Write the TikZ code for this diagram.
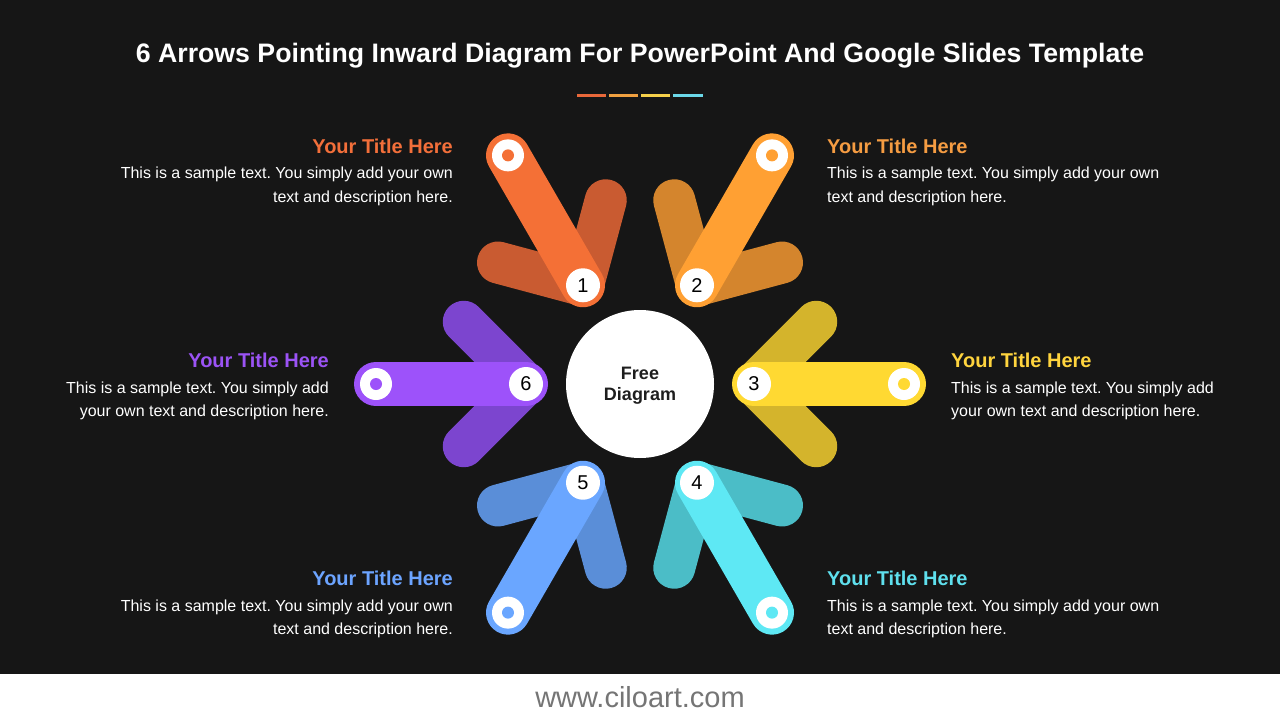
\documentclass[tikz,border=0pt]{standalone}
\usepackage{fontspec}
\setmainfont{Liberation Sans}
\usetikzlibrary{calc}
\frenchspacing
\definecolor{bgc}{HTML}{161616}
\definecolor{cAs}{HTML}{F47036}\definecolor{cAw}{HTML}{C95B31}
\definecolor{cBs}{HTML}{FFA033}\definecolor{cBw}{HTML}{D4852D}
\definecolor{cCs}{HTML}{FFD932}\definecolor{cCw}{HTML}{D4B42C}
\definecolor{cDs}{HTML}{5EE8F4}\definecolor{cDw}{HTML}{4BBDC7}
\definecolor{cEs}{HTML}{6AA6FF}\definecolor{cEw}{HTML}{5A8ED8}
\definecolor{cFs}{HTML}{9D52FA}\definecolor{cFw}{HTML}{7C45CF}
\definecolor{tA}{HTML}{F36F3A}\definecolor{tB}{HTML}{F59C42}
\definecolor{tC}{HTML}{FFD43E}\definecolor{tD}{HTML}{5FE0EE}
\definecolor{tE}{HTML}{6CA4FF}\definecolor{tF}{HTML}{9B53F5}
\definecolor{barA}{HTML}{E8683A}\definecolor{barB}{HTML}{F0A040}
\definecolor{barC}{HTML}{F5D04A}\definecolor{barD}{HTML}{6BD8E8}
\definecolor{footc}{HTML}{757575}
\definecolor{darktext}{HTML}{1E1E1E}
\tikzset{
  wingline/.style={line width=42pt, line cap=round},
  shaftline/.style={line width=44pt, line cap=round},
  numcirc/.style={circle, fill=white, minimum size=34pt, inner sep=0pt, text=black, font=\fontsize{20}{20}\selectfont},
  ringcirc/.style={circle, fill=white, minimum size=32pt, inner sep=0pt},
  ttl/.style={inner sep=0pt, font=\fontsize{20}{20}\selectfont\bfseries},
  body/.style={inner sep=0pt, text=white, font=\fontsize{16}{16}\selectfont},
}
\begin{document}
\begin{tikzpicture}[x=1pt,y=-1pt]
\useasboundingbox (0,0) rectangle (1280,720);
\fill[bgc] (0,0) rectangle (1280,674);
\fill[white] (0,674) rectangle (1280,720);
\node[font=\fontsize{29}{29}\selectfont, text=footc, inner sep=0pt] (foot) at (640,697) {www.ciloart.com};
% main title
\node[font=\fontsize{26.7}{26.7}\selectfont\bfseries, text=white, inner sep=0pt, anchor=base] (title) at (640,62) {6 Arrows Pointing Inward Diagram For PowerPoint And Google Slides Template};
\fill[barA] (577,93.5) rectangle (606,96.5);
\fill[barB] (609,93.5) rectangle (638,96.5);
\fill[barC] (641,93.5) rectangle (670,96.5);
\fill[barD] (673,93.5) rectangle (703,96.5);
% arrows
\coordinate (c) at (640,384);
\foreach \i/\a/\s/\w in {1/240/cAs/cAw, 2/300/cBs/cBw, 3/0/cCs/cCw, 4/60/cDs/cDw, 5/120/cEs/cEw, 6/180/cFs/cFw}{
  \coordinate (n\i) at ($(c)+(\a:114)$);
  \coordinate (r\i) at ($(c)+(\a:264)$);
  \coordinate (wa\i) at ($(n\i)+(\a+45:88)$);
  \coordinate (wb\i) at ($(n\i)+(\a-45:88)$);
  \draw[wingline, draw=\w] (n\i) -- (wa\i);
  \draw[wingline, draw=\w] (n\i) -- (wb\i);
  \draw[shaftline, draw=\s] (n\i) -- (r\i);
  \node[numcirc] (num\i) at (n\i) {\i};
  \node[ringcirc] (ring\i) at (r\i) {};
  \fill[\s] (r\i) circle (6);
}
% center
\node[circle, fill=white, minimum size=148pt, inner sep=0pt] (center) at (c) {};
\node[font=\fontsize{18}{18}\selectfont\bfseries, text=darktext, inner sep=0pt] (cfree) at (640,373) {Free};
\node[font=\fontsize{18}{18}\selectfont\bfseries, text=darktext, inner sep=0pt] (cdiag) at (640,396) {Diagram};
% text block 1 (top left)
\node[ttl, text=tA, anchor=base east] (t1) at (453,153) {Your Title Here};
\node[body, anchor=base east] (b1a) at (453,178) {This is a sample text. You simply add your own};
\node[body, anchor=base east] (b1b) at (453,202) {text and description here.};
% block 2 (top right)
\node[ttl, text=tB, anchor=base west] (t2) at (827,153) {Your Title Here};
\node[body, anchor=base west] (b2a) at (827,178) {This is a sample text. You simply add your own};
\node[body, anchor=base west] (b2b) at (827,202) {text and description here.};
% block 3 (right middle)
\node[ttl, text=tC, anchor=base west] (t3) at (951,367) {Your Title Here};
\node[body, anchor=base west] (b3a) at (951,393) {This is a sample text. You simply add};
\node[body, anchor=base west] (b3b) at (951,416) {your own text and description here.};
% block 6 (left middle)
\node[ttl, text=tF, anchor=base east] (t6) at (329,367) {Your Title Here};
\node[body, anchor=base east] (b6a) at (329,393) {This is a sample text. You simply add};
\node[body, anchor=base east] (b6b) at (329,416) {your own text and description here.};
% block 5 (bottom left)
\node[ttl, text=tE, anchor=base east] (t5) at (453,585) {Your Title Here};
\node[body, anchor=base east] (b5a) at (453,611) {This is a sample text. You simply add your own};
\node[body, anchor=base east] (b5b) at (453,634) {text and description here.};
% block 4 (bottom right)
\node[ttl, text=tD, anchor=base west] (t4) at (827,585) {Your Title Here};
\node[body, anchor=base west] (b4a) at (827,611) {This is a sample text. You simply add your own};
\node[body, anchor=base west] (b4b) at (827,634) {text and description here.};
\end{tikzpicture}
\end{document}
